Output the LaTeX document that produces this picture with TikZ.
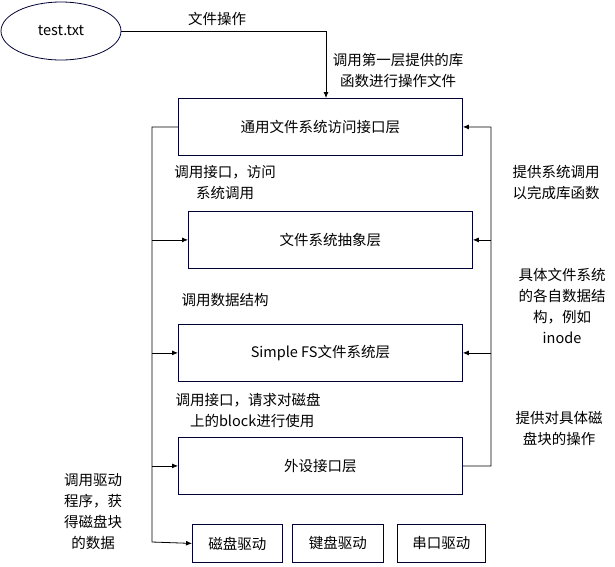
\documentclass[tikz,border=0pt]{standalone}
\usepackage{fontspec}
\setmainfont{Noto Sans CJK SC}
\usetikzlibrary{arrows.meta,shapes.geometric}
\begin{document}
\begin{tikzpicture}[x=1pt,y=-1pt,font=\fontsize{14.5}{21}\selectfont,
  layer/.style={draw=black!80!blue,thick,minimum width=284pt,minimum height=57pt,anchor=north west,inner sep=0},
  drv/.style={draw=black!80!blue,thick,minimum height=38pt,anchor=north west,inner sep=0},
  lbl/.style={align=center,inner sep=0},
  arr/.style={-{Latex[length=6pt,width=5pt]},line width=0.8pt}]
\useasboundingbox (0,0) rectangle (615,566);
\node[draw=black!80!blue,ellipse,thick,minimum width=120pt,minimum height=58pt] (t) at (61,31) {test.txt};
\node[layer] (b1) at (178,98) {通用文件系统访问接口层};
\node[layer] (b2) at (188,211) {文件系统抽象层};
\node[layer] (b3) at (178,324) {Simple FS文件系统层};
\node[layer] (b4) at (178,437) {外设接口层};
\node[drv,minimum width=90pt] (d1) at (192,524) {磁盘驱动};
\node[drv,minimum width=91pt] (d2) at (292,524) {键盘驱动};
\node[drv,minimum width=88pt] (d3) at (397,524) {串口驱动};
\coordinate (tc) at (326,31);
\draw[arr] (t.east) -- (tc) -- (tc |- b1.north);
\coordinate (L1) at (152,127);
\coordinate (L2) at (152,542);
\draw[line width=0.8pt] (b1.west) -- (L1) -- (L2);
\draw[arr] (L1 |- b2.west) -- (b2.west);
\draw[arr] (L1 |- b3.west) -- (b3.west);
\draw[arr] (L1 |- b4.west) -- (b4.west);
\draw[arr] (L2) -- (d1.west);
\coordinate (R1) at (491,466);
\coordinate (R2) at (491,127);
\draw[line width=0.8pt] (b4.east) -- (R1) -- (R2);
\draw[arr] (R2) -- (b1.east);
\draw[arr] (R2 |- b2.east) -- (b2.east);
\draw[arr] (R2 |- b3.east) -- (b3.east);
\node[lbl] (l1) at (217,19) {文件操作};
\node[lbl] (l2) at (398,70) {调用第一层提供的库\\函数进行操作文件};
\node[lbl,align=left] (l3) at (225,183) {调用接口，访问\\\hspace{1.5em}系统调用};
\node[lbl] (l4) at (556,183) {提供系统调用\\以完成库函数};
\node[lbl] (l5) at (225,300) {调用数据结构};
\node[lbl] (l6) at (562,306) {具体文件系统\\的各自数据结\\构，例如\\inode};
\node[lbl,align=left] (l7) at (248,410) {调用接口，请求对磁盘\\\hspace{1em}上的block进行使用};
\node[lbl] (l8) at (559,428) {提供对具体磁\\盘块的操作};
\node[lbl] (l9) at (93,512) {调用驱动\\程序，获\\得磁盘块\\的数据};
\end{tikzpicture}
\end{document}
